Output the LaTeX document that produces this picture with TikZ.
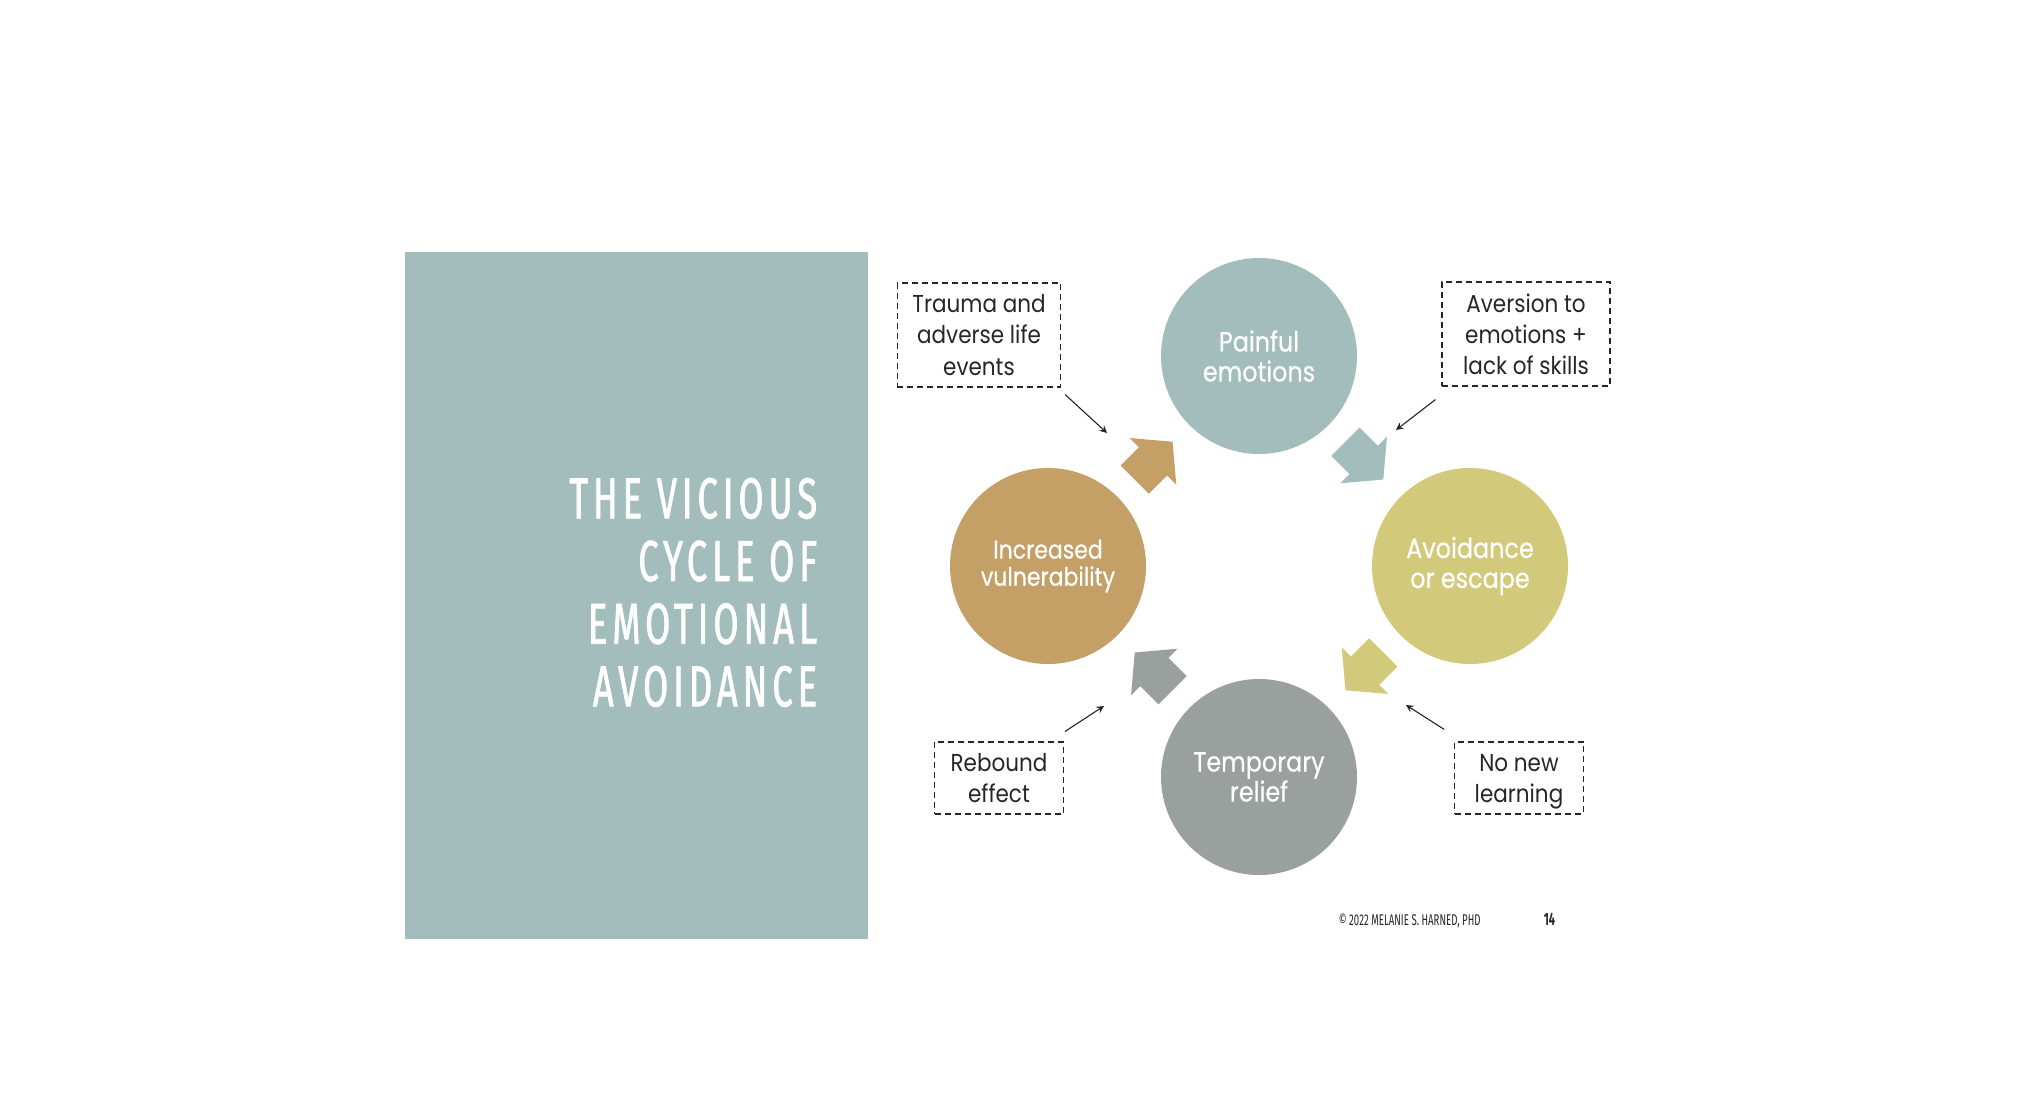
\documentclass[tikz,border=0pt]{standalone}
\usepackage{fontspec}
\setmainfont{Poppins}[FakeStretch=0.88]
\newfontfamily\stagefont{Poppins}[FakeStretch=0.86,FakeBold=0.5]
\newfontfamily\titlefont{Fira Sans}[FakeStretch=0.63,FakeBold=1.2,LetterSpace=8.5]
\newfontfamily\footfont{Fira Sans}[FakeStretch=0.62]

\definecolor{tealc}{RGB}{163,189,189}
\definecolor{olivec}{RGB}{210,202,122}
\definecolor{tanc}{RGB}{196,159,102}
\definecolor{greyc}{RGB}{153,160,157}
\definecolor{inkc}{RGB}{38,38,38}

\tikzset{every picture/.style={line width=0.75pt}}
\tikzset{
  stage/.style={circle, inner sep=0pt, minimum size=88.2pt, text=white, align=center, font=\stagefont\fontsize{12.5}{13.5}\selectfont},
  cause/.style={draw=inkc, dash pattern={on 2.7pt off 1.8pt}, line width=0.5pt, text=inkc, align=center, inner sep=0pt, font=\fontsize{11}{14}\selectfont},
  pointer/.style={-stealth, draw=inkc, line width=0.5pt},
}

\begin{document}
\begin{tikzpicture}[x=0.45pt,y=0.45pt,yscale=-1,xscale=1]
\useasboundingbox (0,0) rectangle (2040,1110);

%Shape: Rectangle
\fill [tealc] (405,252) rectangle (868,939);
% Text Node
\node [anchor=north east, inner sep=0pt, align=right, text=white, font=\titlefont\fontsize{26}{28.2}\selectfont] (title) at (818,477) {THE VICIOUS\\CYCLE OF\\EMOTIONAL\\AVOIDANCE};

%Shape: Circle
\node [stage, fill=tealc] (painful) at (1259,356) {Painful\\emotions};
%Shape: Circle
\node [stage, fill=olivec] (avoid) at (1470,566) {Avoidance\\or escape};
%Shape: Circle
\node [stage, fill=greyc] (relief) at (1259,777) {Temporary\\relief};
%Shape: Circle
\node [stage, fill=tanc, font=\stagefont\fontsize{11.5}{12.2}\selectfont] (vuln) at (1048,566) {Increased\\vulnerability};

%Shape: Right Arrow
\foreach \ang/\col in {-135/tanc, -45/tealc, 45/olivec, 135/greyc}{
  \begin{scope}[shift={(1259,566)}, rotate=\ang]
    \fill [\col] (129,-26.75) -- (169,-26.75) -- (169,-1) -- (182,-1) -- (149,26.75) -- (116,-1) -- (129,-1) -- cycle ;
  \end{scope}
}

% Text Node
\node [cause, minimum width=73.4pt, minimum height=46.8pt] (trauma) at (979,335) {Trauma and\\adverse life\\events};
% Text Node
\node [cause, minimum width=75.6pt, minimum height=46.8pt] (aversion) at (1526,334) {Aversion to\\emotions +\\lack of skills};
% Text Node
\node [cause, minimum width=58pt, minimum height=32.4pt] (rebound) at (999,778) {Rebound\\effect};
% Text Node
\node [cause, minimum width=57.8pt, minimum height=32.4pt] (nonew) at (1519,778) {\vphantom{b}No new\\\raisebox{0pt}[\height][0pt]{learning}};

\coordinate (trauma tip) at (1107,433);
\coordinate (aversion tip) at (1396,430);
\coordinate (rebound tip) at (1104,706);
\coordinate (nonew tip) at (1406,705);

%Straight Lines
\draw [pointer] ([shift={(4,7)}]trauma.south east) -- (trauma tip) ;
%Straight Lines
\draw [pointer] ([shift={(-6,13)}]aversion.south west) -- (aversion tip) ;
%Straight Lines
\draw [pointer] ([shift={(1,-10)}]rebound.north east) -- (rebound tip) ;
%Straight Lines
\draw [pointer] ([shift={(-10,-12)}]nonew.north west) -- (nonew tip) ;

% Text Node
\node [anchor=base west, inner sep=0pt, text=inkc, font=\footfont\fontsize{7}{8}\selectfont] (credit) at (1338,925) {© 2022 MELANIE S. HARNED, PHD};
% Text Node
\node [anchor=base east, inner sep=0pt, text=inkc, font=\footfont\bfseries\fontsize{8}{9}\selectfont] (page) at (1556,925) {14};

\end{tikzpicture}
\end{document}
